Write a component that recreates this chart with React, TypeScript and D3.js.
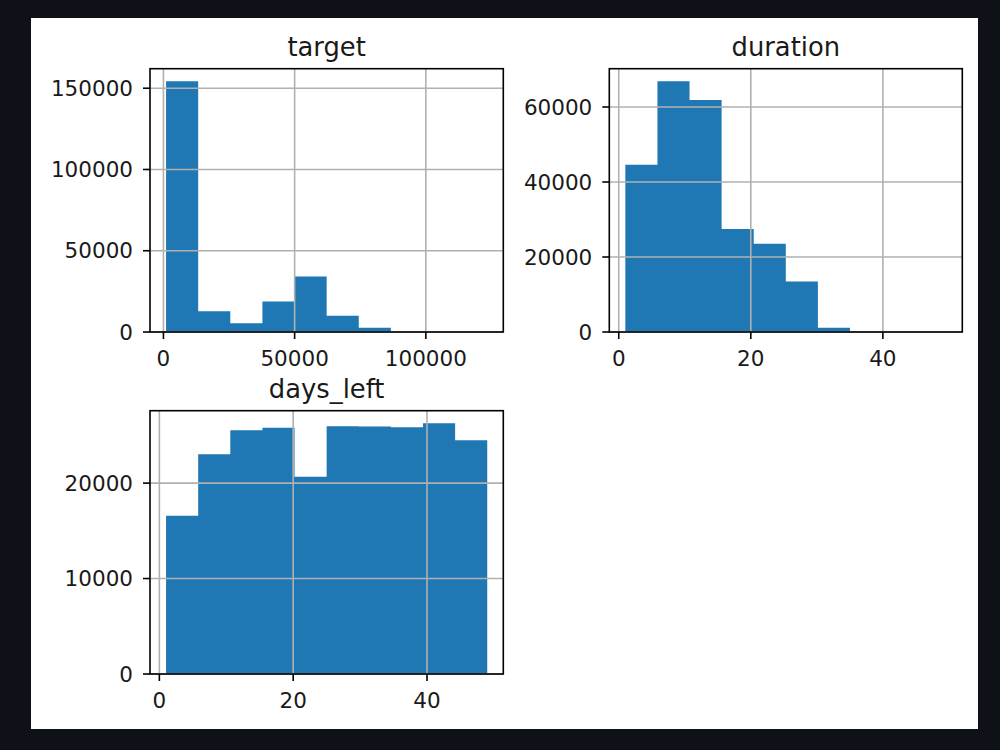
import React from "react";
import * as d3 from "d3";

// ---- data ----
const targetCounts = [154300, 12780, 5370, 18700, 34140, 10060, 2650, 200, 50, 10];
const targetRange = [1000, 123400];
const targetXTicks = [0, 50000, 100000];
const targetYTicks = [0, 50000, 100000, 150000];

const durationCounts = [44590, 66870, 61870, 27470, 23540, 13460, 1150, 150, 30, 10];
const durationRange = [1, 49.6];
const durationXTicks = [0, 20, 40];
const durationYTicks = [0, 20000, 40000, 60000];

const daysCounts = [16590, 23030, 25540, 25790, 20670, 25960, 25940, 25860, 26270, 24500];
const daysRange = [1, 49];
const daysXTicks = [0, 20, 40];
const daysYTicks = [0, 10000, 20000];

const titles = ["target", "duration", "days_left"];

// ---- layout ----
const FONT = "DejaVu Sans, sans-serif";
const TICK_FS = 21.5;
const TITLE_FS = 25.8;
const BAR = "#1f77b4";
const GRID = "#b0b0b0";
const TEXT = "#1a1a1a";

type PanelProps = {
  title: string;
  counts: number[];
  range: number[];
  xTicks: number[];
  yTicks: number[];
  left: number;
  right: number;
  top: number;
  bottom: number;
};

function Panel({ title, counts, range, xTicks, yTicks, left, right, top, bottom }: PanelProps) {
  const n = counts.length;
  const [lo, hi] = range;
  const span = hi - lo;
  const x = d3.scaleLinear().domain([lo - 0.05 * span, hi + 0.05 * span]).range([left, right]);
  const maxC = d3.max(counts) as number;
  const y = d3.scaleLinear().domain([0, maxC * 1.05]).range([bottom, top]);
  const w = span / n;
  const tickLen = 7;
  const p = d3.path();
  counts.forEach((c, i) => {
    const x0 = x(lo + i * w);
    const x1 = x(lo + (i + 1) * w);
    p.rect(x0, y(c), x1 - x0, y(0) - y(c));
  });
  return (
    <g>
      <path d={p.toString()} fill={BAR} />
      {xTicks.map((t) => (
        <line key={"gx" + t} x1={x(t)} x2={x(t)} y1={top} y2={bottom} stroke={GRID} strokeWidth={1.6} />
      ))}
      {yTicks.map((t) => (
        <line key={"gy" + t} x1={left} x2={right} y1={y(t)} y2={y(t)} stroke={GRID} strokeWidth={1.6} />
      ))}
      <rect x={left} y={top} width={right - left} height={bottom - top} fill="none" stroke="#000" strokeWidth={1.6} />
      {xTicks.map((t) => (
        <g key={"xt" + t}>
          <line x1={x(t)} x2={x(t)} y1={bottom} y2={bottom + tickLen} stroke="#000" strokeWidth={1.6} />
          <text x={x(t)} y={bottom + 34} textAnchor="middle" fontFamily={FONT} fontSize={TICK_FS} fill={TEXT}>
            {String(t)}
          </text>
        </g>
      ))}
      {yTicks.map((t) => (
        <g key={"yt" + t}>
          <line x1={left - tickLen} x2={left} y1={y(t)} y2={y(t)} stroke="#000" strokeWidth={1.6} />
          <text x={left - 17} y={y(t)} dy="0.36em" textAnchor="end" fontFamily={FONT} fontSize={TICK_FS} fill={TEXT}>
            {String(t)}
          </text>
        </g>
      ))}
      <text x={(left + right) / 2} y={top - 12.5} textAnchor="middle" fontFamily={FONT} fontSize={TITLE_FS} fill={TEXT}>
        {title}
      </text>
    </g>
  );
}

export default function App() {
  return (
    <svg width={1000} height={750} style={{ position: "absolute", left: 0, top: 0 }}>
      <rect x={0} y={0} width={1000} height={750} fill="#0e1117" />
      <rect x={31} y={18} width={947} height={711} fill="#ffffff" />
      <Panel title={titles[0]} counts={targetCounts} range={targetRange} xTicks={targetXTicks} yTicks={targetYTicks}
        left={150} right={503.3} top={68.7} bottom={332} />
      <Panel title={titles[1]} counts={durationCounts} range={durationRange} xTicks={durationXTicks} yTicks={durationYTicks}
        left={609.3} right={962.3} top={68.7} bottom={332} />
      <Panel title={titles[2]} counts={daysCounts} range={daysRange} xTicks={daysXTicks} yTicks={daysYTicks}
        left={150} right={503.3} top={410.7} bottom={674} />
    </svg>
  );
}
